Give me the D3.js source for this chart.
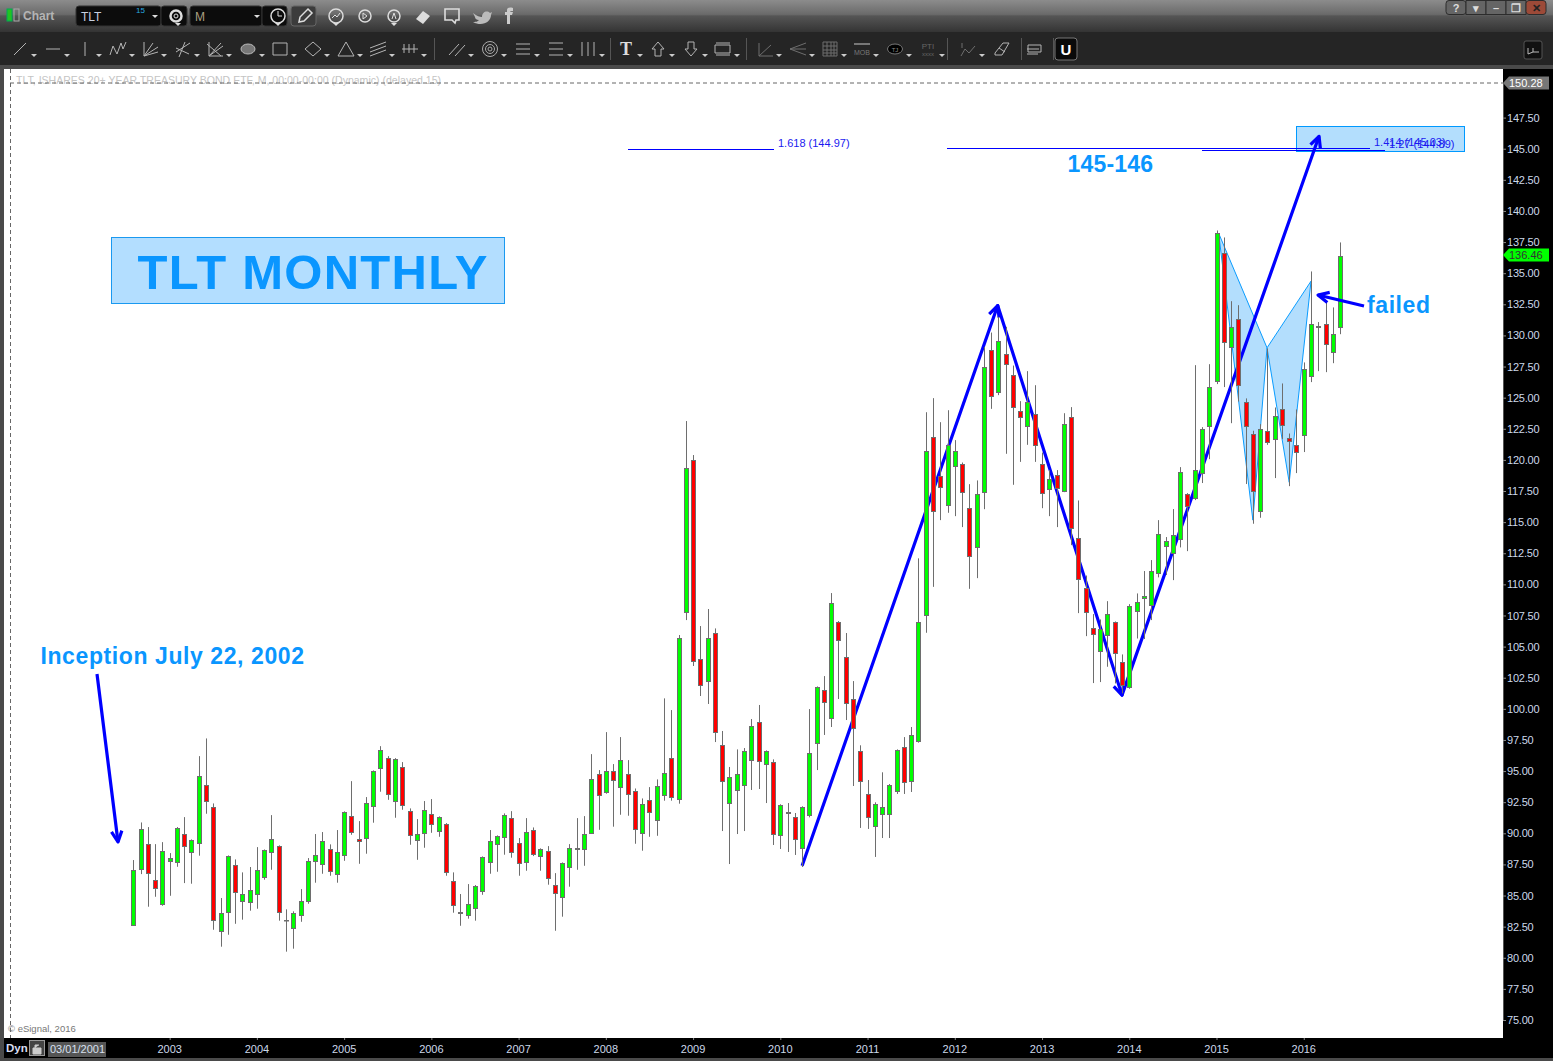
<!DOCTYPE html>
<html><head><meta charset="utf-8"><title>TLT Monthly</title>
<script src="https://cdnjs.cloudflare.com/ajax/libs/d3/7.8.5/d3.min.js"></script>
<style>html,body{margin:0;padding:0;background:#3a3a3a;overflow:hidden}svg{display:block}text{font-family:"Liberation Sans",Arial,sans-serif}</style>
</head><body><svg id="c" width="1553" height="1061"></svg>
<script>
// Monthly candles, Aug 2002 .. Jun 2016
const opens=[82.60,87.10,89.11,86.21,84.34,87.74,87.66,89.91,88.46,89.19,93.85,92.08,82.12,83.64,87.42,84.58,84.45,85.09,86.46,88.46,88.95,83.06,82.36,83.40,84.53,87.74,87.50,88.70,86.70,88.22,91.36,89.51,89.59,92.16,95.21,96.01,92.56,95.29,91.76,89.43,89.99,91.52,90.15,90.71,86.13,83.64,83.40,83.97,85.33,87.66,89.11,89.67,91.19,89.19,87.66,90.23,88.14,88.54,85.81,84.85,87.26,88.79,88.70,89.99,94.73,93.28,94.97,93.68,94.73,93.36,89.99,92.64,91.03,93.05,96.02,92.73,107.75,119.96,103.97,102.21,106.06,97.07,92.41,93.45,93.85,95.86,98.91,95.54,95.70,89.84,91.68,91.28,88.79,91.44,97.23,101.48,99.23,106.95,104.13,100.76,96.58,93.13,90.56,91.52,91.52,93.37,96.90,94.17,97.39,107.50,121.80,118.67,116.34,119.47,119.71,116.10,113.04,117.46,128.79,125.49,128.47,126.86,123.89,122.76,123.65,119.71,117.70,118.75,117.54,123.41,113.69,109.67,106.46,104.61,105.90,106.94,103.73,101.72,107.82,108.87,108.31,110.88,113.05,112.49,113.61,117.23,116.90,118.91,122.69,126.30,136.66,129.03,131.28,124.69,122.04,115.86,122.29,121.64,124.05,121.72,121.16,121.96,126.78,130.72,130.88,128.63,130.64];
const highs=[87.85,90.87,90.50,89.13,89.29,88.41,90.50,91.30,89.51,96.20,97.62,92.40,84.80,88.22,87.90,86.86,87.29,88.89,88.70,91.46,89.03,83.89,83.73,85.52,88.01,89.94,90.10,89.11,90.26,91.76,94.19,90.98,92.91,95.05,97.00,96.20,96.04,95.72,92.00,91.14,92.59,92.75,91.36,90.82,86.86,85.12,85.92,85.84,88.14,90.26,89.83,91.60,91.78,89.62,91.22,90.47,88.79,88.97,86.80,87.66,89.13,91.22,91.38,96.36,95.08,98.13,95.56,97.73,95.88,93.60,92.80,93.71,94.33,100.84,99.90,105.93,123.12,120.39,106.65,108.02,106.46,98.22,95.33,96.74,96.85,99.18,100.31,96.66,95.94,92.33,92.43,91.63,92.17,99.98,101.80,102.63,109.30,107.05,106.09,102.23,97.07,94.28,92.49,94.90,93.96,96.74,97.73,98.54,112.09,123.83,124.96,123.03,123.99,121.59,119.79,118.05,118.35,129.08,130.23,131.49,130.69,127.58,124.72,127.13,126.00,120.59,119.18,119.18,123.75,124.24,116.74,110.71,107.61,107.18,108.65,107.02,104.37,108.41,109.27,111.07,111.95,115.16,113.80,116.05,119.42,117.33,127.61,122.63,127.69,138.43,137.87,132.75,132.43,124.94,122.34,122.87,128.95,124.21,126.14,122.12,124.05,127.83,135.14,131.07,132.81,132.25,137.47];
const lows=[82.60,86.72,84.10,84.90,84.18,84.98,87.31,86.00,85.95,88.20,91.57,82.25,80.89,81.85,82.73,83.06,83.78,83.94,86.27,87.07,82.98,80.49,80.73,82.89,84.34,86.03,86.75,86.59,86.03,87.79,89.88,87.55,88.36,90.85,93.34,92.69,91.25,91.89,89.08,87.87,88.84,90.04,89.72,86.59,83.62,82.57,83.14,82.98,85.06,86.75,86.91,88.28,88.04,86.59,86.99,88.17,86.99,85.87,82.17,83.30,85.71,87.07,87.39,89.99,90.28,93.18,90.53,91.49,91.41,89.16,88.60,89.72,89.80,92.62,92.62,92.38,107.13,103.44,101.03,100.39,97.33,90.18,87.53,89.94,90.18,93.48,93.56,92.43,89.06,88.74,88.50,88.26,87.29,91.28,95.08,97.90,98.54,100.79,99.10,93.80,90.43,90.35,88.10,89.62,89.62,93.16,93.16,93.32,97.28,106.11,109.80,115.16,115.75,115.48,114.60,109.64,110.50,116.04,124.10,125.20,120.49,118.00,119.84,121.21,119.84,116.12,115.48,114.60,117.41,113.15,107.69,105.84,102.07,102.15,103.38,102.04,101.24,101.61,105.65,105.61,107.13,110.56,110.75,110.34,112.97,112.67,116.77,118.14,120.06,126.09,125.85,122.95,124.69,118.06,114.87,115.35,121.21,118.54,121.67,117.89,118.94,120.63,126.25,127.13,127.05,127.77,130.10];
const closes=[87.02,90.31,86.78,85.57,88.54,87.98,90.39,88.95,89.43,94.57,92.56,83.00,83.56,88.14,85.25,85.09,85.41,87.02,88.62,89.51,83.64,83.00,83.56,84.53,87.74,88.22,89.35,86.94,88.46,91.68,90.07,89.35,92.40,94.97,96.66,93.12,95.93,92.24,89.83,89.91,91.84,90.71,91.28,86.86,84.21,83.56,84.29,85.73,88.06,89.35,89.75,91.44,88.46,87.58,90.07,88.30,88.70,86.38,85.17,87.58,88.79,88.70,89.91,94.33,93.04,94.97,94.25,95.85,93.12,90.31,92.32,91.68,93.77,94.82,92.89,105.66,119.31,103.81,101.88,105.66,98.11,94.17,94.50,94.74,96.58,98.59,95.78,96.58,89.92,92.25,91.60,89.52,92.09,96.42,101.72,100.52,108.47,105.50,100.44,98.43,94.17,91.28,92.33,92.09,93.85,96.66,94.09,97.87,106.95,120.75,115.86,117.86,121.16,120.75,117.46,112.24,117.22,127.50,125.17,129.59,127.74,124.21,123.41,124.69,121.16,117.30,118.43,117.78,122.92,114.49,110.47,107.74,105.98,106.38,107.58,104.45,101.88,108.23,108.55,109.03,111.04,114.01,113.45,113.93,118.99,116.26,119.15,122.45,125.82,138.19,129.51,130.64,125.98,122.69,117.47,122.45,121.40,123.49,122.77,121.48,120.60,127.27,130.88,130.64,129.35,130.08,136.42];

const yearLabels=[2003,2004,2005,2006,2007,2008,2009,2010,2011,2012,2013,2014,2015,2016];
const yearIndex=[5,17,29,41,53,65,77,89,101,113,125,137,149,161];
const priceTicks=[75,77.5,80,82.5,85,87.5,90,92.5,95,97.5,100,102.5,105,107.5,110,112.5,115,117.5,120,122.5,125,127.5,130,132.5,135,137.5,140,142.5,145,147.5];
const lastPrice=136.46, crossPrice=150.28;

// Annotations in (month index, price)
const trendIdx=[92,118.9,136.0,163.1];
const trendPx=[87.4,132.4,101.1,146.0];
const batIdx=[149.3,154.0,155.95,159.0,162.0];
const batPx=[138.2,115.16,129.0,118.2,134.36];
const fibLabels=["1.618 (144.97)","1.414 (145.03)","1.27 (144.89)"];
const fibPrices=[144.97,145.03,144.89];

const svg=d3.select("#c");
const W=1553,H=1061;
const x=d3.scaleLinear().domain([0,166]).range([133.3,1340.1]);
const y=d3.scaleLinear().domain([75,150.28]).range([1020,83]);
const defs=svg.append("defs");
const g1=defs.append("linearGradient").attr("id","tb").attr("x1",0).attr("x2",0).attr("y1",0).attr("y2",1);
g1.append("stop").attr("offset",0).attr("stop-color","#8c8c8c");
g1.append("stop").attr("offset",.45).attr("stop-color","#6a6a6a");
g1.append("stop").attr("offset",.5).attr("stop-color","#555");
g1.append("stop").attr("offset",1).attr("stop-color","#343434");

// window chrome
svg.append("rect").attr("width",W).attr("height",H).attr("fill","#4a4a4a");
svg.append("rect").attr("width",W).attr("height",32).attr("fill","url(#tb)");
svg.append("rect").attr("y",32).attr("width",W).attr("height",33).attr("fill","#252525");
svg.append("rect").attr("x",4).attr("y",69).attr("width",1499).attr("height",969).attr("fill","#fff");
svg.append("rect").attr("x",1503).attr("y",69).attr("width",50).attr("height",969).attr("fill","#000");
svg.append("rect").attr("x",4).attr("y",1038).attr("width",1549).attr("height",20).attr("fill","#000");

// title bar
const bar=svg.append("g");
bar.append("rect").attr("x",7).attr("y",9).attr("width",5).attr("height",12).attr("fill","#22c322").attr("stroke","#0a5");
bar.append("rect").attr("x",14).attr("y",9).attr("width",5).attr("height",12).attr("fill","none").attr("stroke","#aaa");
bar.append("text").attr("x",23).attr("y",20).attr("fill","#b4b4b4").attr("font-size",12).attr("font-weight","bold").text("Chart");
function box(x0,w,f,s){bar.append("rect").attr("x",x0).attr("y",6).attr("width",w).attr("height",20).attr("rx",3).attr("fill",f||"#0c0c0c").attr("stroke",s||"#333");}
box(76,85);box(161,26);box(190,72);box(262,25);box(291,25,"#3c3c3c","#666");
bar.append("text").attr("x",81).attr("y",21).attr("fill","#c8d0e0").attr("font-size",12).text("TLT");
bar.append("text").attr("x",136).attr("y",13).attr("fill","#29a8e0").attr("font-size",8).text("15");
bar.append("text").attr("x",195).attr("y",21).attr("fill","#a89f80").attr("font-size",12).text("M");
const caret=(g,cx,cy,c)=>g.append("path").attr("d",`M${cx-3},${cy}h6l-3,3z`).attr("fill",c||"#ddd");
caret(bar,155,15);caret(bar,257,15);caret(bar,178,23);caret(bar,278,23);caret(bar,336,23);caret(bar,394,23);
const ring=(cx,r,sw)=>bar.append("circle").attr("cx",cx).attr("cy",16).attr("r",r).attr("fill","none").attr("stroke","#ddd").attr("stroke-width",sw||1.5);
ring(176,5.5,2.5);ring(176,2,1);ring(278,7);ring(336,7);ring(365,6);ring(394,6);
bar.append("path").attr("d","M278,11v5h4M332,18l3,-3 2,2 3,-4M363,13l4,3 -4,3zM392,19l2,-6 2,6").attr("fill","none").attr("stroke","#ddd");
bar.append("path").attr("d","M299,22l1,-5 8,-8 4,4 -8,8z").attr("fill","none").attr("stroke","#ddd").attr("stroke-width",1.5);
bar.append("path").attr("d","M416,19l7,-8 7,5 -7,8z").attr("fill","#ddd");
bar.append("path").attr("d","M445,9h14v11h-3l-1,3 -3,-3h-7z").attr("fill","none").attr("stroke","#ddd").attr("stroke-width",1.6);
bar.append("path").attr("d","M473,13c4,3 7,4 9,4 0,-5 5,-7 8,-4l2,-1 -1,3c0,7 -9,12 -18,7 4,0 5,-1 6,-2 -3,0 -4,-2 -4,-3z").attr("fill","#bbb");
bar.append("path").attr("d","M507,24v-9h-2v-3h2v-2c0,-2 2,-3 6,-2v3c-2,0 -3,0 -3,1v0h3l-1,3h-2v9z").attr("fill","#ccc");
// window buttons
const wb=[1446,1466,1486,1506,1526],wbGlyph=["?","▾","–","❐","✕"];
wb.forEach((bx,i)=>{bar.append("rect").attr("x",bx).attr("y",0.5).attr("width",20).attr("height",14).attr("rx",i==0||i==4?3:0).attr("fill",i==4?"#9c4a38":"#656565").attr("stroke","#2c2c2c");
 bar.append("text").attr("x",bx+10).attr("y",12).attr("text-anchor","middle").attr("font-size",11).attr("font-weight","bold").attr("fill",i==4?"#222":"#ddd").text(wbGlyph[i]);});

// drawing toolbar
const tools=[
[20,"M-6,6L6,-6",1],[53,"M-7,0H7",1],[85,"M0,-7V7",1],
[118,"M-8,6L-5,-3 -1,5 3,-6 5,0 8,-7",1],
[150,"M-6,7V-7M-6,7L8,-2M-6,7L8,3M-6,7L3,-6",1],
[183,"M-7,3L7,-6M-4,8L2,-7M-7,-1L6,5",1],
[215,"M-6,7V-7M-6,7H8M-6,7L8,-3M-6,7L6,-6M-8,-5L6,7",1],
[280,"M-7,-6H7V6H-7Z",1],[313,"M0,-7L8,0 0,7 -8,0Z",1],[346,"M0,-7L8,7H-8Z",1],
[378,"M-8,-1L8,-7M-8,3L8,-3M-8,7L8,1",1],[410,"M-8,0H8M-6,-5V4M-1,-5V4M4,-5V4",1],
[457,"M-8,6L2,-5M-2,7L8,-4",1],[523,"M-7,-5H7M-7,0H7M-7,5H7",1],[556,"M-7,-6H7M-7,0H7M-7,6H7",1],[588,"M-6,-7V7M0,-7V7M6,-7V7",1],
[658,"M0,-7L6,0H3V7H-3V0H-6Z",1],[691,"M0,7L6,0H3V-7H-3V0H-6Z",1],[723,"M-7,-6H7M-7,6H7M-8,-4H7V4H-8Z",1],
[765,"M-6,7V-6M-6,7H8M-6,7L6,-4",0],[798,"M8,-6L-8,0 8,6M-8,0H8",0],[830,"M-7,-7H7V7H-7ZM-7,-3H7M-7,1H7M-7,4H7M-3,-7V7M1,-7V7M4,-7V7",0],
[968,"M-7,7L-3,0 1,4 7,-3M-6,-6V-1",0],[1002,"M-7,4L1,-6H7L0,6H-7ZM-3,-1L3,3",1],[1034,"M-6,-4H7V3H-6ZM-7,0H5M-7,5H4",1]
];
const tb=svg.append("g");
tools.forEach(t=>{tb.append("path").attr("transform",`translate(${t[0]},49)`).attr("d",t[1]).attr("fill","none").attr("stroke",t[2]?"#b4b4b4":"#6e6e6e");});
tb.append("ellipse").attr("cx",248).attr("cy",49).attr("rx",7).attr("ry",5).attr("fill","#777").attr("stroke","#bbb");
tb.append("circle").attr("cx",490).attr("cy",49).attr("r",7.5).attr("fill","none").attr("stroke","#aaa");
tb.append("circle").attr("cx",490).attr("cy",49).attr("r",4.5).attr("fill","none").attr("stroke","#aaa");
tb.append("circle").attr("cx",490).attr("cy",49).attr("r",2).attr("fill","none").attr("stroke","#aaa");
tb.append("text").attr("x",626).attr("y",55).attr("text-anchor","middle").attr("font-size",18).attr("font-weight","bold").attr("style","font-family:'Liberation Serif',serif").attr("fill","#ddd").text("T");
tb.append("text").attr("x",862).attr("y",55).attr("text-anchor","middle").attr("font-size",7).attr("fill","#777").text("MOB");
tb.append("rect").attr("x",854).attr("y",43).attr("width",16).attr("height",2).attr("fill","#777");
tb.append("ellipse").attr("cx",895).attr("cy",49).attr("rx",7.5).attr("ry",5).attr("fill","#000").attr("stroke","#777");
tb.append("text").attr("x",895).attr("y",52).attr("text-anchor","middle").attr("font-size",6).attr("fill","#888").text("TJ");
tb.append("text").attr("x",928).attr("y",49).attr("text-anchor","middle").attr("font-size",8).attr("fill","#666").text("PTI");
tb.append("text").attr("x",928).attr("y",56).attr("text-anchor","middle").attr("font-size",6).attr("fill","#666").text("xxxx");
[20,53,85,118,150,183,215,248,280,313,346,378,410,457,490,523,556,588,626,658,691,723,765,798,830,862,895,928,968].forEach(cx=>caret(tb,cx+14,54,"#ccc"));
[434,610,746,947,1021,1053].forEach(sx=>tb.append("rect").attr("x",sx).attr("y",38).attr("width",1).attr("height",22).attr("fill","#555"));
tb.append("rect").attr("x",1055).attr("y",38).attr("width",22).attr("height",22).attr("rx",3).attr("fill","#0a0a0a").attr("stroke","#777");
tb.append("text").attr("x",1066).attr("y",55).attr("text-anchor","middle").attr("font-size",15).attr("font-weight","bold").attr("fill","#fff").text("U");
tb.append("rect").attr("x",1524).attr("y",41).attr("width",18).attr("height",18).attr("rx",2).attr("fill","#111").attr("stroke","#555");
tb.append("path").attr("d","M1528,48v6l5,-2h6M1533,48v4").attr("fill","none").attr("stroke","#bbb");

// chart area
const plot=svg.append("g");
plot.append("text").attr("x",16).attr("y",84).attr("font-size",10.5).attr("fill","#c4c4c4")
  .attr("textLength",425).text("TLT, ISHARES 20+ YEAR TREASURY BOND ETF, M, 00:00-00:00 (Dynamic) (delayed 15)");
plot.append("line").attr("x1",10).attr("x2",1503).attr("y1",y(crossPrice)).attr("y2",y(crossPrice)).attr("stroke","#666").attr("stroke-dasharray","4 3");
plot.append("line").attr("x1",10.5).attr("x2",10.5).attr("y1",69).attr("y2",1038).attr("stroke","#666").attr("stroke-dasharray","4 3");
plot.append("text").attr("x",8).attr("y",1032).attr("font-size",9.5).attr("fill","#777").text("© eSignal, 2016");

// Fib target box and lines
const fibG=plot.append("g");
fibG.append("rect").attr("x",1296.5).attr("y",126.5).attr("width",168).attr("height",25).attr("fill","#b3defd").attr("stroke","#0099ff");
const fibSeg=[[628,774],[947,1370],[1202,1385]];
fibPrices.forEach((p,i)=>{
  const yy=i==0?149.5:i==1?148.5:150.5;
  fibG.append("line").attr("x1",fibSeg[i][0]).attr("x2",fibSeg[i][1]).attr("y1",yy).attr("y2",yy).attr("stroke","#0000ff");
  fibG.append("text").attr("x",fibSeg[i][1]+4).attr("y",i==0?147:i==1?146:148).attr("font-size",11).attr("fill","#1a1af0").text(fibLabels[i]);
});

// bat pattern
const bp=i=>[x(batIdx[i]),y(batPx[i])];
const batFill=plot.append("g");
[[0,1,2],[2,3,4]].forEach(t=>{
  batFill.append("path").attr("d",d3.line()(t.map(bp))+"Z").attr("fill","#b3defd").attr("stroke","#0a9cff").attr("stroke-width",1);
});

// trend arrows (behind the candles)
const arrows=plot.append("g").attr("stroke","#0000ff").attr("fill","none").attr("stroke-width",3.2).attr("stroke-linejoin","round");
const trend=d3.range(trendIdx.length).map(i=>[x(trendIdx[i]),y(trendPx[i])]);
arrows.append("path").attr("d",d3.line()(trend));
function head(p,q,g,s){ // p -> q, tip at q
  const a=Math.atan2(q[1]-p[1],q[0]-p[0]),L=s||14;
  const b1=[q[0]-L*Math.cos(a-.45),q[1]-L*Math.sin(a-.45)],b2=[q[0]-L*Math.cos(a+.45),q[1]-L*Math.sin(a+.45)];
  g.append("path").attr("d",d3.line()([b1,q,b2]));
}
head(trend[0],trend[1],arrows,12);head(trend[1],trend[2],arrows,12);head(trend[2],trend[3],arrows,12);

// candles
const candles=plot.append("g");
opens.forEach((o,i)=>{
  const c=closes[i],cx=Math.round(x(i))+.5;
  candles.append("line").attr("x1",cx).attr("x2",cx).attr("y1",y(highs[i])).attr("y2",y(lows[i])).attr("stroke","#6e6e6e");
  const t=Math.round(y(Math.max(o,c)))+.5,b=Math.round(y(Math.min(o,c)))+.5;
  candles.append("rect").attr("x",cx-2).attr("width",4).attr("y",t).attr("height",Math.max(b-t,.5))
    .attr("fill",c>=o?"#00ff00":"#ff0000").attr("stroke","#6e6e6e");
});

// side arrows, over the candles
const arrows2=plot.append("g").attr("stroke","#0000ff").attr("fill","none").attr("stroke-width",3.2).attr("stroke-linejoin","round");
[[[97,674],[118,842]],[[1364,306],[1318,295]]].forEach(s=>{arrows2.append("path").attr("d",d3.line()(s));head(s[0],s[1],arrows2,12);});

// titles
plot.append("rect").attr("x",111.5).attr("y",237.5).attr("width",393).attr("height",66).attr("fill","#b3deff").attr("stroke","#1a99f0");
const label=(t,lx,ly,fs,len)=>plot.append("text").attr("x",lx).attr("y",ly).attr("font-size",fs).attr("font-weight","bold").attr("fill","#0a96ff").attr("textLength",len).text(t);
label("TLT MONTHLY",137.5,289,49,350);
label("Inception July 22, 2002",40.5,664,23,263.5);
label("145-146",1067.5,172,23,85.5);
label("failed",1367,312.5,23,63);

// y axis
const yAxis=d3.axisRight(y).tickValues(priceTicks).tickSize(3).tickFormat(d3.format(".2f"));
const ya=svg.append("g").attr("transform","translate(1503,0)").call(yAxis);
ya.select(".domain").attr("stroke","#555");
ya.selectAll(".tick line").attr("stroke","#888");
ya.selectAll(".tick text").attr("fill","#ccd8ea").attr("font-size",11).attr("font-family","Liberation Sans").attr("x",4).attr("letter-spacing","-0.2");
const tag=(v,fill,tc,w)=>{const yy=Math.round(y(v));svg.append("path").attr("d",`M1503,${yy}l6,-6.5h${w}v13h-${w}z`).attr("fill",fill);
  svg.append("text").attr("x",1509).attr("y",yy+4).attr("font-size",11).attr("fill",tc).text(d3.format(".2f")(v));};
tag(crossPrice,"#777","#fff",40);
tag(lastPrice,"#00ff00","#333",40);

// x axis
const xa=svg.append("g").attr("transform","translate(0,1038)")
 .call(d3.axisBottom(x).tickValues(yearIndex).tickSize(2).tickFormat((d,i)=>yearLabels[i]));
xa.select(".domain").remove();
xa.selectAll(".tick line").attr("stroke","#888");
xa.selectAll(".tick text").attr("fill","#ccd8ea").attr("font-size",11).attr("font-family","Liberation Sans").attr("x",-0.5).attr("y",7);
svg.append("text").attr("x",6).attr("y",1052).attr("font-size",11.5).attr("font-weight","bold").attr("fill","#d8dcf0").text("Dyn");
svg.append("rect").attr("x",29.5).attr("y",1040.5).attr("width",15).attr("height",15).attr("fill","#444").attr("stroke","#999");
svg.append("path").attr("d","M33,1048h8v6h-8zM35,1048v-3h4").attr("fill","#ccc").attr("stroke","#ccc");
svg.append("rect").attr("x",48).attr("y",1042).attr("width",58).attr("height",15).attr("fill","#555");
svg.append("text").attr("x",50).attr("y",1053).attr("font-size",11).attr("fill","#d8e0f0").text("03/01/2001");
</script></body></html>
